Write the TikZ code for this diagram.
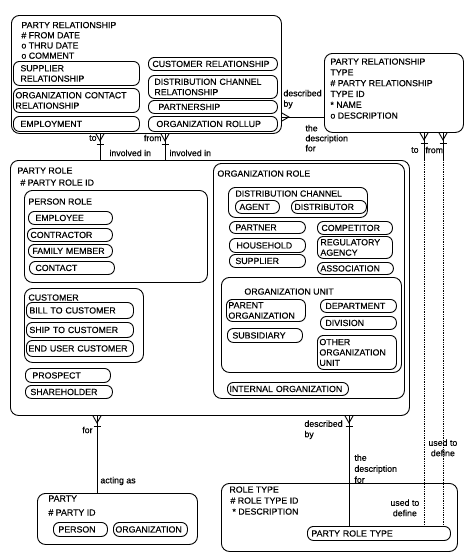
\documentclass[tikz,border=0pt]{standalone}
\usepackage{fontspec}
\setmainfont{Liberation Sans}[UprightFeatures={FakeBold=0.35}]
\newcommand\lblfont{\fontsize{8.8}{10.4}\selectfont}
\begin{document}
\begin{tikzpicture}[x=1pt,y=-1pt,line width=0.9pt,font=\lblfont,
  ent/.style={draw,rounded corners=8pt,anchor=north west,inner sep=0pt},
  sub/.style={draw,rounded corners=6pt,anchor=north west,inner ysep=0pt,align=left},
  ttl/.style={anchor=north west,inner sep=0pt,align=left},
  lab/.style={inner sep=0pt,align=left},
  crowbar/.pic={\draw (-4,0) -- (0,7) -- (4,0); \draw (-3.5,11) -- (3.5,11);},
  crowright/.pic={\draw (0,-4) -- (7,0) -- (0,4);}]
\useasboundingbox (0,0) rectangle (474,557);

% ---------- PARTY RELATIONSHIP ----------
\node[ent,minimum width=270pt,minimum height=118pt] (prel) at (11,15) {};
\node[ttl,font=\fontsize{8.8}{10.2}\selectfont] (prelt) at (21,21.5) {PARTY RELATIONSHIP\\\# FROM DATE\\o THRU DATE\\o COMMENT};
\node[sub,minimum height=24pt,inner xsep=7pt,text width=112pt] (supr) at (13,61) {SUPPLIER\\RELATIONSHIP};
\node[sub,minimum height=24pt,inner xsep=2pt,text width=122pt] (ocr) at (13,88) {ORGANIZATION CONTACT\\RELATIONSHIP};
\node[sub,minimum height=15pt,inner xsep=7pt,text width=112pt] (empl) at (13,116) {EMPLOYMENT};
\node[sub,minimum height=13pt,inner xsep=4pt,text width=121pt] (custr) at (148,57) {CUSTOMER RELATIONSHIP};
\node[sub,minimum height=23pt,inner xsep=6pt,text width=117pt] (dcr) at (148,75) {DISTRIBUTION CHANNEL\\RELATIONSHIP};
\node[sub,minimum height=13pt,inner xsep=10pt,text width=109pt] (partn) at (148,100) {PARTNERSHIP};
\node[sub,minimum height=15pt,inner xsep=8pt,text width=113pt] (orgr) at (148,116) {ORGANIZATION ROLLUP};

% ---------- PARTY RELATIONSHIP TYPE ----------
\node[ent,minimum width=139pt,minimum height=79pt] (prtype) at (324,53) {};
\node[ttl,font=\fontsize{8.8}{10.8}\selectfont] (prtypet) at (330,58) {PARTY RELATIONSHIP\\TYPE\\\# PARTY RELATIONSHIP\\TYPE ID\\* NAME\\o DESCRIPTION};

% ---------- PARTY ROLE ----------
\node[ent,minimum width=399pt,minimum height=255pt] (prole) at (10,160) {};
\node[ttl,font=\fontsize{8.8}{12}\selectfont] (prolet) at (17,167) {PARTY ROLE\\\hspace{3pt}\# PARTY ROLE ID};

\node[ent,minimum width=183pt,minimum height=92pt] (prsn) at (24,190) {};
\node[ttl] (prsnt) at (28,198) {PERSON ROLE};
\node[sub,minimum height=13pt,inner xsep=7pt,text width=70pt] (emp) at (28,211) {EMPLOYEE};
\node[sub,minimum height=13pt,inner xsep=3pt,text width=79pt] (contr) at (27,228) {CONTRACTOR};
\node[sub,minimum height=13pt,inner xsep=4pt,text width=76pt] (fam) at (28,244) {FAMILY MEMBER};
\node[sub,minimum height=13pt,inner xsep=6pt,text width=73pt] (cont) at (29,261) {CONTACT};

\node[ent,minimum width=119pt,minimum height=74pt] (cust) at (24,288) {};
\node[ttl] (custt) at (28,294) {CUSTOMER};
\node[sub,minimum height=16pt,inner xsep=3pt,text width=101pt] (bill) at (26,302) {BILL TO CUSTOMER};
\node[sub,minimum height=15pt,inner xsep=3pt,text width=101pt] (ship) at (26,322) {SHIP TO CUSTOMER};
\node[sub,minimum height=16pt,inner xsep=2pt,text width=103pt] (endu) at (26,340) {END USER CUSTOMER};
\node[sub,minimum height=14pt,inner xsep=7pt,text width=71pt] (prosp) at (25,368) {PROSPECT};
\node[sub,minimum height=13pt,inner xsep=5pt,text width=77pt] (share) at (25,385) {SHAREHOLDER};

\node[ent,minimum width=191pt,minimum height=235pt] (orgrole) at (213,163) {};
\node[ttl] (orgrolet) at (217,170) {ORGANIZATION ROLE};
\node[ent,rounded corners=7pt,minimum width=139pt,minimum height=30pt] (distch) at (228,187) {};
\node[ttl] (distcht) at (235,190) {DISTRIBUTION CHANNEL};
\node[sub,minimum height=13pt,inner xsep=4pt,text width=36pt] (agent) at (235,200) {AGENT};
\node[sub,minimum height=13pt,inner xsep=3pt,text width=69pt] (distr) at (291,200) {DISTRIBUTOR};
\node[sub,minimum height=12pt,inner xsep=6pt,text width=64pt] (partner) at (229,221) {PARTNER};
\node[sub,minimum height=13pt,inner xsep=4pt,text width=67pt] (compet) at (317,221) {COMPETITOR};
\node[sub,minimum height=14pt,inner xsep=7pt,text width=62pt] (house) at (229,238) {HOUSEHOLD};
\node[sub,minimum height=22pt,inner xsep=3pt,text width=69pt] (regag) at (317,236) {REGULATORY\\AGENCY};
\node[sub,minimum height=13pt,inner xsep=6pt,text width=64pt] (suppl) at (229,254) {SUPPLIER};
\node[sub,minimum height=12pt,inner xsep=3pt,text width=70pt] (assoc) at (317,262) {ASSOCIATION};

\node[ent,minimum width=180pt,minimum height=95pt] (orgunit) at (221,277) {};
\node[ttl] (orgunitt) at (244,288) {ORGANIZATION UNIT};
\node[sub,minimum height=22pt,inner xsep=2pt,text width=75pt] (parent) at (226,299) {PARENT\\ORGANIZATION};
\node[sub,minimum height=13pt,inner xsep=5pt,text width=66pt] (dept) at (320,299) {DEPARTMENT};
\node[sub,minimum height=13pt,inner xsep=5pt,text width=66pt] (divis) at (320,316) {DIVISION};
\node[sub,minimum height=14pt,inner xsep=5pt,text width=65pt] (subsid) at (227,328) {SUBSIDIARY};
\node[sub,minimum height=34pt,inner xsep=2pt,text width=75pt] (other) at (317,335) {OTHER\\ORGANIZATION\\UNIT};
\node[sub,minimum height=13pt,inner xsep=2pt,text width=117pt] (intorg) at (227,382) {INTERNAL ORGANIZATION};

% ---------- PARTY ----------
\node[ent,minimum width=160pt,minimum height=51pt] (party) at (37,493) {};
\node[ttl,font=\fontsize{8.8}{14}\selectfont] (partyt) at (48,495) {PARTY\\\# PARTY ID};
\node[sub,minimum height=14pt,inner xsep=5pt,text width=44pt] (person) at (53,522) {PERSON};
\node[sub,minimum height=14pt,inner xsep=2pt,text width=70pt] (organ) at (113,522) {ORGANIZATION};

% ---------- ROLE TYPE ----------
\node[ent,minimum width=236pt,minimum height=68pt] (roletype) at (221,483) {};
\node[ttl,font=\fontsize{8.8}{11}\selectfont] (roletypet) at (229,486) {ROLE TYPE\\\hspace{1pt}\# ROLE TYPE ID\\\hspace{3pt}* DESCRIPTION};
\node[sub,minimum height=14pt,inner xsep=4pt,text width=135pt] (prt) at (307,526) {PARTY ROLE TYPE};

% ---------- connectors ----------
\coordinate (xto) at (100,0);
\coordinate (xfrom) at (165,0);
\coordinate (yd) at (0,117);
\coordinate (xr1) at (424,0);
\coordinate (xr2) at (443,0);
\coordinate (ymid) at (0,160);
\coordinate (xp) at (97,0);
\coordinate (xd) at (349,0);

\draw (xto |- prel.south) -- (xto |- prole.north);
\pic at (xto |- prel.south) {crowbar};
\draw (xfrom |- prel.south) -- (xfrom |- prole.north);
\pic at (xfrom |- prel.south) {crowbar};

\draw (prel.east |- yd) -- (prtype.west |- yd);
\pic at (prel.east |- yd) {crowright};

\draw (xr1 |- prtype.south) -- (xr1 |- ymid);
\draw[densely dotted,line width=0.75pt] (xr1 |- ymid) -- (xr1 |- prt.north);
\pic at (xr1 |- prtype.south) {crowbar};
\draw (xr2 |- prtype.south) -- (xr2 |- ymid);
\draw[densely dotted,line width=0.75pt] (xr2 |- ymid) -- (xr2 |- prt.north);
\pic at (xr2 |- prtype.south) {crowbar};

\draw (xp |- prole.south) -- (xp |- party.north);
\pic at (xp |- prole.south) {crowbar};
\draw (xd |- prole.south) -- (xd |- prt.north);
\pic at (xd |- prole.south) {crowbar};

% ---------- labels ----------
\node[lab,anchor=east] (lto) at (97,138) {to};
\node[lab,anchor=west] (linv1) at (109,153) {involved in};
\node[lab,anchor=east] (lfrom) at (162,138) {from};
\node[lab,anchor=west] (linv2) at (169,153) {involved in};
\node[lab,anchor=north west] (ldesc1) at (283,89.5) {described\\by};
\node[lab,anchor=north west,font=\fontsize{8.8}{10}\selectfont] (lthe1) at (305,124.5) {the\\description\\for};
\node[lab,anchor=east] (lto2) at (419,150) {to};
\node[lab,anchor=west] (lfrom2) at (425,150) {from};
\node[lab,anchor=north west,align=center] (lused1) at (428,439) {used to\\define};
\node[lab,anchor=north west,align=center] (lused2) at (390,499) {used to\\define};
\node[lab,anchor=east] (lfor) at (93,430) {for};
\node[lab,anchor=west] (lact) at (100,481) {acting as};
\node[lab,anchor=north west] (ldesc2) at (304,420) {described\\by};
\node[lab,anchor=north west,font=\fontsize{8.8}{11}\selectfont] (lthe2) at (354,454) {the\\description\\for};
\end{tikzpicture}
\end{document}
